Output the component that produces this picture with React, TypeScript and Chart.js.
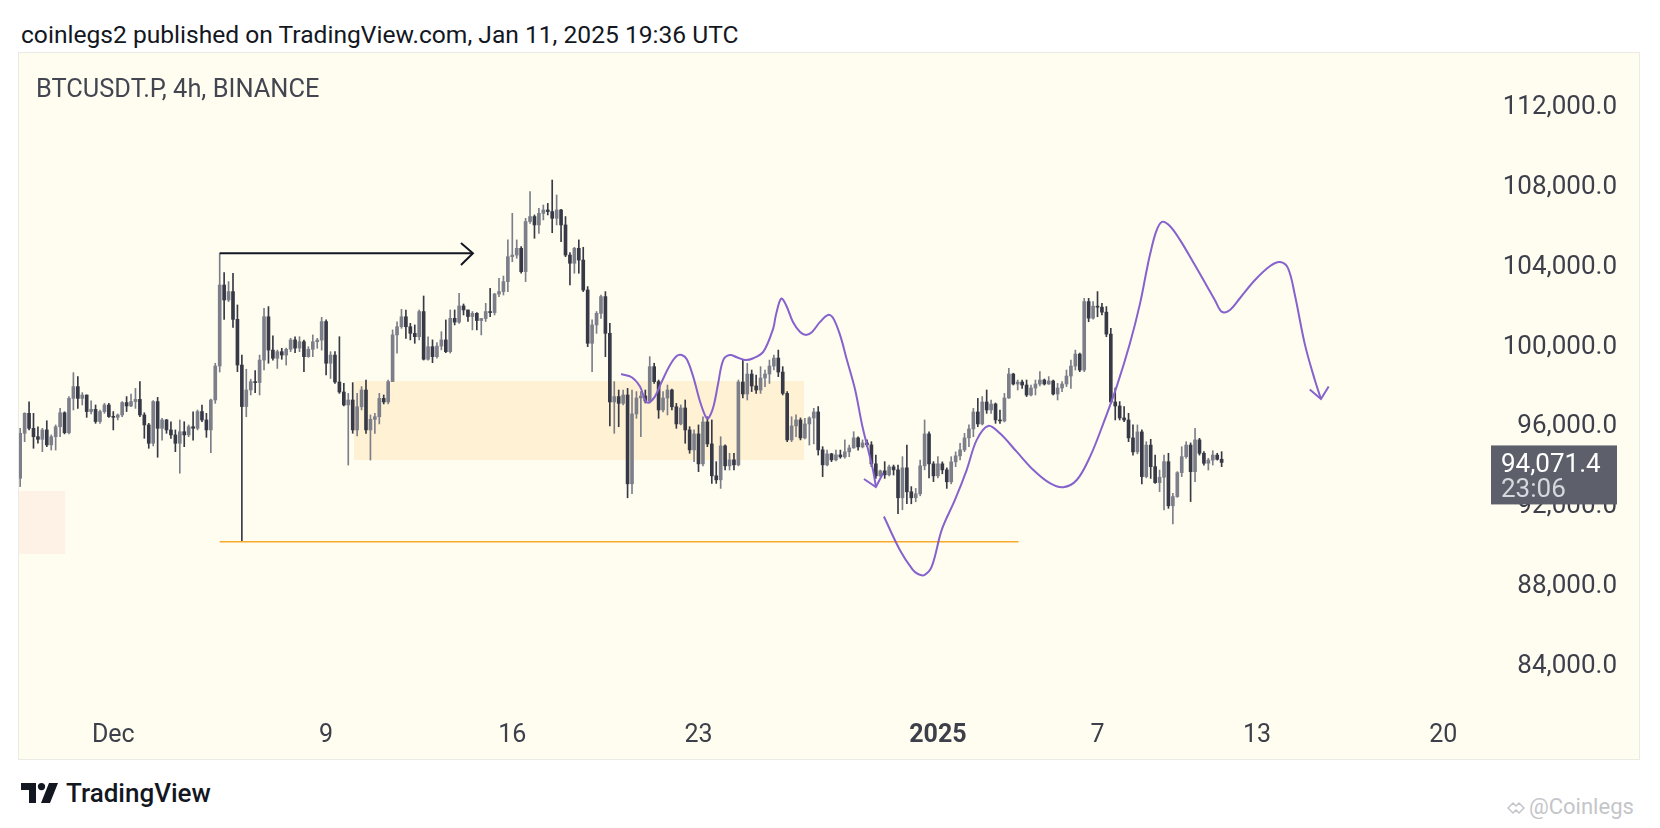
import React, { useEffect, useRef } from 'react';
import { Chart, registerables } from 'chart.js';

Chart.register(...registerables);

// ---------- DATA ----------
// 4h candles, first candle Nov 27 2024 12:00 UTC; x axis in days since Dec 1 2024 00:00 UTC
const START_DAY = -3.5;
const STEP_DAY = 1 / 6;

const OPEN = [
  93280, 95530, 96530, 95780, 95360, 95230, 95700, 94950, 95360, 95860,
  96560, 95560, 97280, 97870, 97280, 97450, 96620, 96730, 96120, 96620,
  96950, 96370, 96330, 96450, 97070, 96900, 97120, 97230, 96450, 95950,
  95030, 97120, 95780, 96200, 95700, 95450, 95030, 95610, 95450, 95860,
  95780, 96620, 96200, 95700, 97200, 98900, 102960, 102210, 102630, 101240,
  98950, 96870, 97700, 98120, 98070, 99200, 101370, 99700, 99290, 99620,
  99450, 99740, 100210, 99800, 100120, 99370, 99740, 100120, 100200, 101130,
  99040, 99450, 98100, 97600, 96950, 97200, 95700, 96860, 97700, 95700,
  96230, 96360, 97280, 97100, 98120, 100460, 100870, 101370, 100870, 100540,
  100370, 101630, 99240, 99870, 99370, 99900, 100210, 99620, 101290, 101100,
  101910, 101710, 101380, 101540, 101180, 101280, 101630, 101580, 102510, 102630,
  103130, 104380, 104460, 104800, 103630, 106140, 106390, 105970, 106550, 106720,
  106640, 106300, 106720, 105970, 104460, 104050, 104800, 104210, 102710, 100040,
  100960, 101540, 102380, 100540, 97100, 97370, 97030, 97450, 93000, 96500,
  97300, 97400, 97150, 98870, 98120, 96700, 97300, 97700, 96860, 96000,
  96800, 95700, 94700, 95500, 94000, 96100, 95000, 93400, 93200, 94900,
  93900, 94200, 93950, 98100, 97500, 98500, 97900, 97700, 98300, 98500,
  98900, 99300, 98600, 97530, 95200, 95900, 96200, 95300, 96000, 96300,
  96600, 94700, 93950, 94500, 94200, 94450, 94350, 94600, 94800, 95300,
  94850, 95050, 94950, 94000, 93400, 93650, 93450, 93850, 93700, 92300,
  93800, 92600, 92300, 92500, 93900, 95500, 94000, 93400, 94000, 93700,
  93100, 94100, 94400, 94700, 95300, 95750, 96600, 96000, 97100, 96700,
  97000, 96200, 96150, 97300, 98500, 98000, 98100, 97950, 97450, 97800,
  98000, 98200, 98000, 98150, 97500, 97800, 98000, 98400, 98900, 99500,
  98700, 102130, 101300, 101900, 101850, 101600, 100500, 97100, 96900, 96300,
  96200, 95300, 94600, 95600, 93360, 94940, 93860, 93060, 93330, 94110,
  91900, 92360, 93560, 94360, 94940, 93610, 95200, 94530, 94030, 94190,
  94440, 94230,
];

const HIGH = [
  95780, 96560, 97110, 96530, 95860, 95780, 96160, 95450, 95950, 96780,
  96610, 97370, 98570, 98370, 97570, 97450, 97160, 96950, 96700, 97030,
  97030, 96620, 96500, 97120, 97370, 97500, 97780, 98120, 96560, 96030,
  97170, 97330, 96280, 96230, 96110, 95700, 96200, 96110, 95950, 96610,
  96700, 96950, 96530, 97250, 99040, 104550, 103580, 103130, 103550, 101960,
  99450, 98740, 98240, 98670, 99450, 101790, 101880, 100410, 99700, 99790,
  99800, 100290, 100370, 100370, 100200, 99870, 100460, 100290, 101340, 101210,
  99620, 99620, 100370, 98030, 97530, 98070, 97530, 97870, 98200, 96450,
  96530, 97530, 97450, 98200, 100710, 101120, 101740, 101710, 101040, 100960,
  101710, 102410, 100370, 100210, 100070, 100620, 101210, 101710, 101710, 102540,
  102010, 101710, 101630, 101580, 101290, 102040, 102790, 102540, 103300, 103410,
  105220, 106550, 105220, 104880, 106300, 107640, 106470, 106800, 106970, 107050,
  108220, 107470, 106750, 106390, 104580, 104850, 105220, 104850, 102880, 101210,
  101630, 102460, 102630, 101040, 98120, 97700, 97700, 97780, 97700, 97620,
  97620, 97700, 99370, 99040, 98200, 97620, 97950, 97750, 97030, 96950,
  97200, 95860, 95700, 95950, 96360, 96360, 96200, 94110, 95360, 94950,
  94530, 94530, 98200, 99200, 99040, 98700, 98450, 98870, 98700, 99200,
  99450, 99700, 98870, 97620, 96360, 96450, 96300, 96280, 96360, 96780,
  96870, 94860, 94690, 94530, 94690, 94690, 95200, 94940, 95610, 95350,
  95200, 95200, 95110, 94440, 93690, 94110, 93940, 93940, 93940, 94360,
  94940, 92860, 92770, 94190, 96200, 95600, 94110, 94360, 94100, 93800,
  94360, 94600, 95030, 95530, 95950, 96780, 97280, 97370, 97700, 97200,
  97050, 96700, 97530, 98790, 98540, 98200, 98200, 98200, 97950, 98200,
  98620, 98250, 98370, 98200, 98030, 98120, 98700, 99200, 99700, 99550,
  102290, 102290, 102130, 102630, 102040, 101880, 100790, 97800, 97120, 96870,
  96530, 95950, 95950, 95700, 95110, 95230, 94440, 93690, 94440, 94530,
  92520, 93610, 94860, 95110, 95050, 95780, 95280, 94610, 94280, 94660,
  94530, 94610,
];

const LOW = [
  92860, 95110, 95700, 94780, 95030, 94610, 94860, 94690, 94690, 95360,
  95500, 95500, 96700, 96780, 96950, 96330, 96500, 96030, 96030, 96530,
  96330, 95700, 96200, 96370, 96620, 96870, 96780, 96370, 95280, 94780,
  94900, 94330, 95190, 95530, 95280, 94610, 93530, 94860, 95360, 95190,
  95700, 96110, 95330, 94560, 97030, 98600, 101240, 102130, 100840, 98620,
  90100, 96360, 97450, 97570, 97450, 98700, 99040, 99200, 98780, 99240,
  98950, 99620, 99570, 99620, 98620, 99340, 99370, 99790, 99700, 98450,
  98280, 98030, 97530, 96900, 93940, 95530, 95400, 96700, 95530, 94190,
  95530, 96000, 97000, 97000, 98120, 99540, 100790, 100290, 100210, 100040,
  100210, 99200, 99200, 99070, 99300, 99710, 99570, 99550, 100960, 101040,
  101460, 101130, 100710, 100710, 100460, 101130, 101380, 101460, 102380, 102460,
  102630, 104130, 104300, 103550, 103130, 106050, 105300, 105550, 106220, 106470,
  105580, 105970, 105130, 104380, 102960, 103550, 103550, 102630, 99870, 98620,
  100540, 101290, 99370, 95900, 95530, 95860, 96950, 92300, 92500, 96280,
  95360, 97050, 97050, 98030, 96280, 96600, 96450, 96700, 95780, 95950,
  95030, 94530, 94110, 93610, 93900, 94860, 93020, 93020, 92770, 93690,
  93690, 93690, 93900, 97300, 97200, 97620, 97530, 97530, 97870, 98030,
  98700, 98370, 97450, 95110, 95110, 95360, 95200, 95250, 94940, 95000,
  94440, 93360, 93900, 94110, 94150, 94280, 94280, 94360, 94780, 94690,
  94800, 94860, 93860, 93270, 93360, 93270, 93400, 93440, 91500, 91700,
  92000, 92000, 92100, 92400, 93700, 93300, 93110, 93300, 93500, 92770,
  93000, 93860, 94200, 94610, 94860, 95360, 95860, 95950, 96530, 96530,
  96030, 96030, 96100, 97280, 97950, 97700, 97780, 97370, 97400, 97450,
  97900, 97950, 97980, 97450, 97200, 97620, 97870, 97780, 98700, 98620,
  98620, 101120, 101250, 101370, 101460, 100370, 97030, 96200, 96200, 96110,
  95110, 94440, 94500, 93000, 93300, 93270, 93020, 92610, 91690, 91770,
  90990, 92320, 93360, 94280, 92110, 93110, 94440, 93940, 93690, 93940,
  94190, 93860,
];

const CLOSE = [
  95530, 96530, 95780, 95360, 95230, 95700, 94950, 95360, 95860, 96560,
  95560, 97280, 97870, 97280, 97450, 96620, 96730, 96120, 96620, 96950,
  96370, 96330, 96450, 97070, 96900, 97120, 97230, 96450, 95950, 95030,
  97120, 95780, 96200, 95700, 95450, 95030, 95610, 95450, 95860, 95780,
  96620, 96200, 95700, 97200, 98900, 102960, 102210, 102630, 101240, 98950,
  96870, 97700, 98120, 98070, 99200, 101370, 99700, 99290, 99620, 99450,
  99740, 100210, 99800, 100120, 99370, 99740, 100120, 100200, 101130, 99040,
  99450, 98100, 97600, 96950, 97200, 95700, 96860, 97700, 95700, 96230,
  96360, 97280, 97100, 98120, 100460, 100870, 101370, 100870, 100540, 100370,
  101630, 99240, 99870, 99370, 99900, 100210, 99620, 101290, 101100, 101910,
  101710, 101380, 101540, 101180, 101280, 101630, 101580, 102510, 102630, 103130,
  104380, 104460, 104800, 103630, 106140, 106390, 105970, 106550, 106720, 106640,
  106300, 106720, 105970, 104460, 104050, 104800, 104210, 102710, 100040, 100960,
  101540, 102380, 100540, 97100, 97370, 97030, 97450, 93000, 96500, 97300,
  97400, 97150, 98870, 98120, 96700, 97300, 97700, 96860, 96000, 96800,
  95700, 94700, 95500, 94000, 96100, 95000, 93400, 93200, 94900, 93900,
  94200, 93950, 98100, 97500, 98500, 97900, 97700, 98300, 98500, 98900,
  99300, 98600, 97530, 95200, 95900, 96200, 95300, 96000, 96300, 96600,
  94700, 93950, 94500, 94200, 94450, 94350, 94600, 94800, 95300, 94850,
  95050, 94950, 94000, 93400, 93650, 93450, 93850, 93700, 92300, 93800,
  92600, 92300, 92500, 93900, 95500, 94000, 93400, 94000, 93700, 93100,
  94100, 94400, 94700, 95300, 95750, 96600, 96000, 97100, 96700, 97000,
  96200, 96150, 97300, 98500, 98000, 98100, 97950, 97450, 97800, 98000,
  98200, 98000, 98150, 97500, 97800, 98000, 98400, 98900, 99500, 98700,
  102130, 101300, 101900, 101850, 101600, 100500, 97100, 96900, 96300, 96200,
  95300, 94600, 95600, 93360, 94940, 93860, 93060, 93330, 94110, 91900,
  92360, 93560, 94360, 94940, 93610, 95200, 94530, 94030, 94190, 94440,
  94230, 94071.4,
];

const TICK_DAYS = [0, 8, 15, 22, 31, 37, 43, 50];
const TICK_LABELS = ['Dec', '9', '16', '23', '2025', '7', '13', '20'];
const YEAR_TICK_DAY = 31;
const PRICE_TICKS = [84000, 88000, 92000, 96000, 100000, 104000, 108000, 112000];

// drawings (day, price)
const ZONE_DAYS = [9.05, 25.97];
const ZONE_PRICES = [98150, 94190];
const PINK_DAYS = [-3.6, -1.8];
const PINK_PRICES = [92640, 89480];
const SUPPORT_DAYS = [4.0, 34.03];
const SUPPORT_PRICE = 90100;
const ARROW_LINE = [[4.0, 104550], [13.52, 104550]];
const ARROW_HEAD = [[13.07, 105070], [13.52, 104550], [13.07, 103960]];

const PATH_A = [
  [19.09, 98500], [19.49, 98340], [19.8, 97870], [19.99, 97200], [20.11, 97060], [20.36, 97370],
  [20.62, 98120], [20.93, 98950], [21.18, 99400], [21.37, 99450], [21.56, 99240], [21.8, 98370],
  [22.06, 97110], [22.27, 96360], [22.37, 96280], [22.56, 96860], [22.74, 98040], [22.93, 99200],
  [23.18, 99450], [23.44, 99340], [23.75, 99200], [24.06, 99290], [24.44, 99620], [24.81, 100790],
  [24.91, 101460], [25.11, 102280], [25.29, 101960], [25.55, 101110], [25.82, 100610], [26.04, 100460],
  [26.27, 100610], [26.57, 101110], [26.87, 101460], [27.06, 101310], [27.32, 100460], [27.58, 99200],
  [27.89, 97700], [28.15, 95950], [28.38, 94690], [28.56, 93690], [28.67, 92840],
];
const PATH_A_HEAD = [[28.22, 93240], [28.67, 92840], [28.94, 93540]];

const PATH_B = [
  [28.97, 91360], [29.58, 89660], [30.05, 88700], [30.25, 88480], [30.49, 88430], [30.77, 88860],
  [31.15, 90720], [31.64, 92190], [32.08, 93690], [32.46, 95200], [32.89, 95900], [33.33, 95530],
  [33.96, 94610], [34.59, 93690], [35.21, 93030], [35.71, 92830], [36.22, 93190], [36.72, 94360],
  [37.22, 96030], [37.72, 97870], [38.22, 100040], [38.6, 102040], [38.85, 103710], [38.97, 104460],
  [39.2, 105620], [39.42, 106120], [39.72, 105920], [40.1, 105220], [40.66, 103960], [41.11, 102910],
  [41.41, 102210], [41.68, 101610], [41.98, 101710], [42.36, 102310], [42.92, 103210], [43.49, 103910],
  [43.86, 104110], [44.16, 103810], [44.42, 102460], [44.8, 99960], [45.17, 98200], [45.4, 97250],
];
const PATH_B_HEAD = [[44.98, 97720], [45.4, 97250], [45.69, 97880]];

const COUNTDOWN = '23:06';

// ---------- STYLE ----------
const FONT = 'Roboto, "Liberation Sans", sans-serif';
const UP_COLOR = '#7c7f8a';
const DOWN_COLOR = '#373a46';
const PURPLE = '#8662cc';
const PANEL_BG = '#fffdf0';
const CANVAS_W = 1598;
const CANVAS_H = 706;
const Y_AXIS_W = 129;

const fmtPrice = (v: number) =>
  v.toLocaleString('en-US', { minimumFractionDigits: 1, maximumFractionDigits: 1 });

const pts = (arr: number[][]) => arr.map(([x, y]) => ({ x, y }));

const lastPricePlugin = {
  id: 'lastPriceBox',
  afterDraw(chart: any) {
    const { ctx, chartArea, scales } = chart;
    const last = CLOSE[CLOSE.length - 1];
    const y = scales.y.getPixelForValue(last);
    const left = chartArea.right + 3;
    ctx.save();
    ctx.fillStyle = '#5d606b';
    ctx.fillRect(left, y - 17, CANVAS_W - left, 59);
    ctx.font = `26px ${FONT}`;
    ctx.textBaseline = 'middle';
    ctx.textAlign = 'left';
    ctx.fillStyle = '#ffffff';
    ctx.fillText(fmtPrice(last), left + 10, y + 3);
    ctx.fillStyle = '#d6d8de';
    ctx.fillText(COUNTDOWN, left + 10, y + 28);
    ctx.restore();
  },
};

function buildConfig(): any {
  const days = OPEN.map((_, i) => START_DAY + i * STEP_DAY);
  const colors = OPEN.map((o, i) => (CLOSE[i] >= o ? UP_COLOR : DOWN_COLOR));
  const noLine = 'rgba(0,0,0,0)';

  return {
    type: 'bar',
    data: {
      datasets: [
        {
          type: 'line',
          data: pts([[ZONE_DAYS[0], ZONE_PRICES[0]], [ZONE_DAYS[1], ZONE_PRICES[0]]]),
          borderColor: noLine, borderWidth: 0, pointRadius: 0,
          fill: '+1', backgroundColor: 'rgba(255, 196, 100, 0.2)', order: 30,
        },
        {
          type: 'line',
          data: pts([[ZONE_DAYS[0], ZONE_PRICES[1]], [ZONE_DAYS[1], ZONE_PRICES[1]]]),
          borderColor: noLine, borderWidth: 0, pointRadius: 0, fill: false, order: 30,
        },
        {
          type: 'line',
          data: pts([[PINK_DAYS[0], PINK_PRICES[0]], [PINK_DAYS[1], PINK_PRICES[0]]]),
          borderColor: noLine, borderWidth: 0, pointRadius: 0,
          fill: '+1', backgroundColor: 'rgba(252, 215, 210, 0.28)', order: 30,
        },
        {
          type: 'line',
          data: pts([[PINK_DAYS[0], PINK_PRICES[1]], [PINK_DAYS[1], PINK_PRICES[1]]]),
          borderColor: noLine, borderWidth: 0, pointRadius: 0, fill: false, order: 30,
        },
        {
          type: 'bar',
          data: days.map((d, i) => ({ x: d, y: [LOW[i], HIGH[i]] })),
          backgroundColor: colors, barThickness: 1, grouped: false, borderWidth: 0, order: 20,
        },
        {
          type: 'bar',
          data: days.map((d, i) => ({ x: d, y: [Math.min(OPEN[i], CLOSE[i]), Math.max(OPEN[i], CLOSE[i])] })),
          backgroundColor: colors, barThickness: 3, grouped: false, borderWidth: 0, minBarLength: 1, order: 19,
        },
        {
          type: 'line',
          data: pts([[SUPPORT_DAYS[0], SUPPORT_PRICE], [SUPPORT_DAYS[1], SUPPORT_PRICE]]),
          borderColor: '#f7a92c', borderWidth: 1.5, pointRadius: 0, fill: false, order: 5,
        },
        {
          type: 'line', data: pts(ARROW_LINE),
          borderColor: '#131722', borderWidth: 2, pointRadius: 0, fill: false, order: 4,
        },
        {
          type: 'line', data: pts(ARROW_HEAD),
          borderColor: '#131722', borderWidth: 2, pointRadius: 0, fill: false, order: 4,
        },
        {
          type: 'line', data: pts(PATH_A), tension: 0.35,
          borderColor: PURPLE, borderWidth: 2, pointRadius: 0, fill: false, order: 2,
        },
        {
          type: 'line', data: pts(PATH_A_HEAD),
          borderColor: PURPLE, borderWidth: 2, pointRadius: 0, fill: false, order: 2,
        },
        {
          type: 'line', data: pts(PATH_B), tension: 0.35,
          borderColor: PURPLE, borderWidth: 2, pointRadius: 0, fill: false, order: 2,
        },
        {
          type: 'line', data: pts(PATH_B_HEAD),
          borderColor: PURPLE, borderWidth: 2, pointRadius: 0, fill: false, order: 2,
        },
      ],
    },
    options: {
      responsive: false,
      animation: false,
      events: [],
      layout: { padding: 0 },
      plugins: { legend: { display: false }, tooltip: { enabled: false }, title: { display: false } },
      scales: {
        x: {
          type: 'linear',
          min: -3.545,
          max: 51.68,
          offset: false,
          grid: { display: false, drawTicks: false },
          border: { display: false },
          afterBuildTicks: (axis: any) => {
            axis.ticks = TICK_DAYS.map((v) => ({ value: v }));
          },
          afterFit: (axis: any) => {
            axis.height = 50;
            axis.paddingLeft = 0;
            axis.paddingRight = 0;
          },
          ticks: {
            autoSkip: false,
            maxRotation: 0,
            padding: 12,
            color: '#3d404b',
            font: (ctx: any) => ({
              family: FONT,
              size: 25,
              weight: ctx.tick && ctx.tick.value === YEAR_TICK_DAY ? 'bold' : 'normal',
            }),
            callback: (v: any) => {
              const i = TICK_DAYS.indexOf(Number(v));
              return i >= 0 ? TICK_LABELS[i] : '';
            },
          },
        },
        y: {
          type: 'linear',
          position: 'right',
          min: 81718,
          max: 114584,
          grid: { display: false, drawTicks: false },
          border: { display: false },
          afterBuildTicks: (axis: any) => {
            axis.ticks = PRICE_TICKS.map((v) => ({ value: v }));
          },
          afterFit: (axis: any) => {
            axis.width = Y_AXIS_W;
            axis.paddingTop = 0;
            axis.paddingBottom = 0;
          },
          ticks: {
            crossAlign: 'far',
            padding: 11,
            labelOffset: 3,
            color: '#3d404b',
            font: { family: FONT, size: 26 },
            callback: (v: any) => fmtPrice(Number(v)),
          },
        },
      },
    },
    plugins: [lastPricePlugin],
  };
}

function TvLogo() {
  return (
    <svg width="37" height="20" viewBox="0 0 37 20" style={{ display: 'block' }}>
      <path d="M0 0 H15 V20 H8 V7 H0 Z" fill="#131722" />
      <circle cx="20.5" cy="3.6" r="3.6" fill="#131722" />
      <path d="M28 0 H37 L29 20 H20 Z" fill="#131722" />
    </svg>
  );
}

export default function App() {
  const ref = useRef<HTMLCanvasElement>(null);
  useEffect(() => {
    if (!ref.current) return;
    const chart = new Chart(ref.current, buildConfig());
    return () => chart.destroy();
  }, []);

  return (
    <div
      style={{
        position: 'fixed', left: 0, top: 0, width: 1660, height: 828,
        background: '#ffffff', overflow: 'hidden', fontFamily: FONT,
      }}
    >
      <div
        style={{
          position: 'absolute', left: 21, top: 20, fontSize: 24.6, lineHeight: '30px',
          color: '#131722', whiteSpace: 'nowrap',
        }}
      >
        coinlegs2 published on TradingView.com, Jan 11, 2025 19:36 UTC
      </div>

      <div
        style={{
          position: 'absolute', left: 19, top: 53, width: 1620, height: 706,
          background: PANEL_BG, boxShadow: '0 0 0 1px #ebebe6',
        }}
      />
      <canvas
        ref={ref}
        width={CANVAS_W}
        height={CANVAS_H}
        style={{ position: 'absolute', left: 19, top: 53, width: CANVAS_W, height: CANVAS_H, display: 'block' }}
      />
      <div
        style={{
          position: 'absolute', left: 36, top: 73, fontSize: 25.4, lineHeight: '30px',
          color: '#434651', whiteSpace: 'nowrap',
        }}
      >
        BTCUSDT.P, 4h, BINANCE
      </div>

      <div style={{ position: 'absolute', left: 21, top: 782, display: 'flex', alignItems: 'center' }}>
        <TvLogo />
        <span style={{ marginLeft: 8, fontSize: 26, fontWeight: 500, color: '#131722', lineHeight: '22px' }}>
          TradingView
        </span>
      </div>

      <div
        style={{
          position: 'absolute', left: 1506, top: 794, display: 'flex', alignItems: 'center',
          color: '#c4c5c9', fontSize: 22, lineHeight: '26px',
        }}
      >
        <svg width="20" height="16" viewBox="0 0 20 16" style={{ marginRight: 3 }}>
          <path d="M2 9 L7 4 L10 7 L13 4 L18 9 L13 14 L10 11 L7 14 Z" fill="none" stroke="#c4c5c9" strokeWidth="1.5" />
        </svg>
        <span>@Coinlegs</span>
      </div>
    </div>
  );
}
